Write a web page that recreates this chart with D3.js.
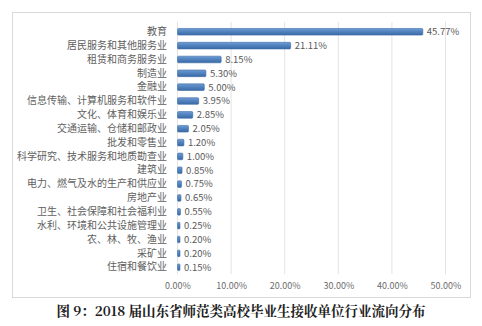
<!DOCTYPE html>
<html><head><meta charset="utf-8">
<script src="https://cdn.jsdelivr.net/npm/d3@7"></script>
<style>body{margin:0;background:#fff}svg{display:block}</style>
</head><body>
<svg id="c" width="482" height="326"></svg>
<script>
const categories = ["教育","居民服务和其他服务业","租赁和商务服务业","制造业","金融业","信息传输、计算机服务和软件业","文化、体育和娱乐业","交通运输、仓储和邮政业","批发和零售业","科学研究、技术服务和地质勘查业","建筑业","电力、燃气及水的生产和供应业","房地产业","卫生、社会保障和社会福利业","水利、环境和公共设施管理业","农、林、牧、渔业","采矿业","住宿和餐饮业"];
const values = [45.77,21.11,8.15,5.30,5.00,3.95,2.85,2.05,1.20,1.00,0.85,0.75,0.65,0.55,0.25,0.20,0.20,0.15];
const ticks = [0,10,20,30,40,50];
const title = "图 9：2018 届山东省师范类高校毕业生接收单位行业流向分布";

const svg = d3.select("#c");
const font = "'Noto Sans CJK SC', sans-serif";
svg.append("rect").attr("x",12.5).attr("y",12.5).attr("width",458).attr("height",285)
  .attr("fill","#fff").attr("stroke","#d9d9d9");

const x = d3.scaleLinear().domain([0,50]).range([177.5,445.5]);
const y = d3.scaleBand().domain(categories).range([25,274]).paddingInner(0.52).paddingOuter(0.25);

const defs = svg.append("defs");
const g = defs.append("linearGradient").attr("id","bg").attr("x1",0).attr("y1",0).attr("x2",0).attr("y2",1);
g.append("stop").attr("offset","0%").attr("stop-color","#6f9bd3");
g.append("stop").attr("offset","50%").attr("stop-color","#4f81bd");
g.append("stop").attr("offset","100%").attr("stop-color","#3a6aa6");

svg.append("g").selectAll("line").data(ticks).join("line")
  .attr("x1",d=>x(d)).attr("x2",d=>x(d)).attr("y1",22).attr("y2",274)
  .attr("stroke","#e3e3e3").attr("stroke-width",1);

const ax = svg.append("g").attr("transform","translate(0,280)")
  .call(d3.axisBottom(x).tickValues(ticks).tickSize(0).tickFormat(d=>d.toFixed(2)+"%"));
ax.select(".domain").remove();
ax.selectAll("text").attr("font-family",font).attr("font-size",9).attr("fill","#6b6b6b");

const ay = svg.append("g").attr("transform","translate(172,0)")
  .call(d3.axisLeft(y).tickSize(0).tickPadding(5));
ay.select(".domain").remove();
ay.selectAll("text").attr("font-family",font).attr("font-size",10).attr("fill","#606060");

svg.append("g").selectAll("rect").data(values).join("rect")
  .attr("x",x(0)).attr("y",(d,i)=>y(categories[i]))
  .attr("width",d=>Math.max(2.5,x(d)-x(0))).attr("height",y.bandwidth())
  .attr("fill","url(#bg)").attr("stroke","#3d6da8").attr("stroke-width",0.6).attr("rx",1);

svg.append("g").selectAll("text").data(values).join("text")
  .attr("x",d=>Math.max(x(0)+2.5,x(d))+4).attr("y",(d,i)=>y(categories[i])+y.bandwidth()/2)
  .attr("dy","0.35em").attr("font-family",font).attr("font-size",9.5).attr("fill","#595959")
  .text(d=>d.toFixed(2)+"%");

svg.append("text").attr("x",241).attr("y",316).attr("text-anchor","middle")
  .attr("font-family","'Noto Serif CJK SC','Noto Sans CJK SC', serif").attr("font-weight","bold")
  .attr("font-size",13.5).attr("fill","#222").text(title);
</script>
</body></html>
